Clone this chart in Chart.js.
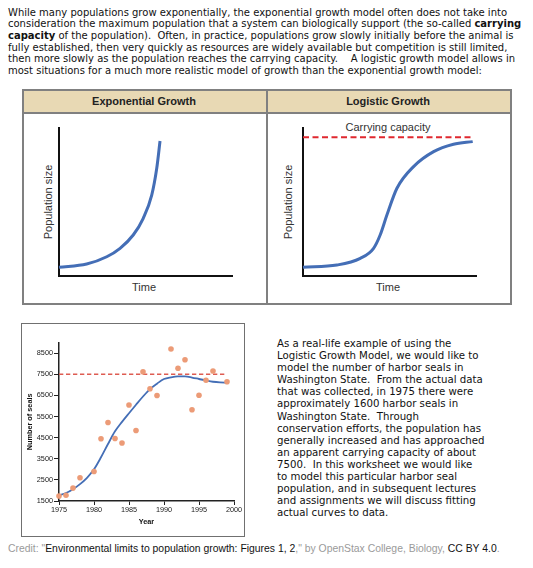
<!DOCTYPE html>
<html>
<head>
<meta charset="utf-8">
<script src="https://cdn.jsdelivr.net/npm/chart.js@4.4.1/dist/chart.umd.min.js"></script>
<style>
  html, body { margin: 0; padding: 0; background: #fff; }
  #page { position: relative; width: 533px; height: 568px; overflow: hidden; }
  .abs { position: absolute; }
  .verd { font-family: "DejaVu Sans", Verdana, sans-serif; color: #111; white-space: pre; }
  .arial { font-family: "Liberation Sans", Arial, sans-serif; }
  .ctr { transform: translate(-50%, -50%); white-space: nowrap; line-height: 1; }
  #intro { left: 8px; top: 6.9px; font-size: 10px; line-height: 11.6px; }
  #side { left: 277px; top: 338px; font-size: 10.2px; line-height: 12.1px; }
  #panels { left: 22px; top: 89px; width: 490px; height: 216px; box-sizing: border-box; border: 2px solid #808080; }
  #band { left: 0; top: 0; width: 486px; height: 21px; background: #e8d9b4; border-bottom: 2px solid #808080; }
  #divider { left: 242px; top: 0; width: 2px; height: 212px; background: #808080; }
  .head { font-size: 11px; font-weight: bold; color: #222; }
  .lab { font-size: 11px; color: #333; }
  .rot { transform: translate(-50%, -50%) rotate(-90deg); white-space: nowrap; line-height: 1; }
  #sealbox { left: 21px; top: 323px; width: 224px; height: 214px; box-sizing: border-box; border: 1.5px solid #707070; }
  #credit { left: 8px; top: 543px; font-size: 10.4px; color: #9a9a9a; white-space: pre; }
  #credit b { font-weight: normal; color: #111; }
</style>
</head>
<body>
<div id="page">
  <div id="intro" class="abs verd">While many populations grow exponentially, the exponential growth model often does not take into
consideration the maximum population that a system can biologically support (the so-called <b>carrying</b>
<b>capacity</b> of the population).  Often, in practice, populations grow slowly initially before the animal is
fully established, then very quickly as resources are widely available but competition is still limited,
then more slowly as the population reaches the carrying capacity.    A logistic growth model allows in
most situations for a much more realistic model of growth than the exponential growth model:</div>

  <div id="panels" class="abs">
    <div id="band" class="abs"></div>
    <div id="divider" class="abs"></div>
  </div>
  <div class="abs arial head ctr" style="left:144px;top:101px">Exponential Growth</div>
  <div class="abs arial head ctr" style="left:388px;top:101px">Logistic Growth</div>
  <div class="abs arial lab rot" style="left:48px;top:202px">Population size</div>
  <div class="abs arial lab rot" style="left:288px;top:202px">Population size</div>
  <div class="abs arial lab ctr" style="left:144px;top:287px">Time</div>
  <div class="abs arial lab ctr" style="left:388px;top:287px">Time</div>
  <div class="abs arial lab ctr" style="left:388px;top:127px">Carrying capacity</div>
  <canvas id="expChart" class="abs" width="193" height="168" style="left:49px;top:118px"></canvas>
  <canvas id="logChart" class="abs" width="193" height="168" style="left:293px;top:118px"></canvas>

  <div id="sealbox" class="abs"></div>
  <canvas id="sealChart" class="abs" width="222" height="212" style="left:22px;top:324px"></canvas>

  <div id="side" class="abs verd">As a real-life example of using the
Logistic Growth Model, we would like to
model the number of harbor seals in
Washington State.  From the actual data
that was collected, in 1975 there were
approximately 1600 harbor seals in
Washington State.  Through
conservation efforts, the population has
generally increased and has approached
an apparent carrying capacity of about
7500.  In this worksheet we would like
to model this particular harbor seal
population, and in subsequent lectures
and assignments we will discuss fitting
actual curves to data.</div>

  <div id="credit" class="abs arial">Credit: "<b>Environmental limits to population growth: Figures 1, 2</b>," by OpenStax College, Biology, <b>CC BY 4.0</b>.</div>
</div>

<script>
// schematic curves (0-100 on both axes)
const expX = [0, 16.0, 27.6, 35.3, 42.9, 48.7, 53.6, 56.5, 58.4];
const expY = [5.9, 8.1, 13.0, 18.7, 27.7, 39.0, 54.7, 72.8, 91.2];
const logX = [0, 19.6, 33.1, 40.8, 44.6, 48.5, 54.3, 63.9, 75.5, 87.0, 98.1];
const logY = [5.9, 7.4, 11.9, 18.7, 27.7, 41.2, 59.3, 73.9, 84.0, 89.0, 90.8];
const capLevel = 93.7;

// harbor seals in Washington State
const years = [1975, 1976, 1977, 1978, 1980, 1981, 1982, 1983, 1984, 1985, 1986, 1987, 1988, 1989, 1991, 1992, 1993, 1994, 1995, 1996, 1997, 1999];
const seals = [1740, 1770, 2110, 2600, 2900, 4450, 5220, 4460, 4250, 6050, 4840, 7620, 6820, 6500, 8700, 7790, 8190, 5820, 6510, 7220, 7660, 7150];
const fitYears = [1975, 1976, 1977, 1978, 1979, 1980, 1981, 1982, 1983, 1984, 1985, 1986, 1987, 1988, 1989, 1990, 1991, 1992, 1993, 1994, 1995, 1996, 1997, 1998, 1999];
const fitSeals = [1760, 1880, 2060, 2300, 2600, 3000, 3570, 4200, 4800, 5250, 5660, 6060, 6450, 6800, 7060, 7280, 7360, 7400, 7400, 7350, 7280, 7210, 7150, 7120, 7110];
const capacity = 7500;
const capYears = [1975, 1999];
const yTicks = [1500, 2500, 3500, 4500, 5500, 6500, 7500, 8500];
const xTicks = [1975, 1980, 1985, 1990, 1995, 2000];

const pts = (xs, ys) => xs.map((x, i) => ({ x: x, y: ys[i] }));
const blue = 'rgb(68,110,182)';

function schematicScales() {
  const axis = (fit) => ({
    type: 'linear', min: 0, max: 100,
    ticks: { display: false },
    grid: { display: false },
    border: { display: true, color: '#111', width: 2 },
    afterFit: fit
  });
  return {
    x: axis(s => { s.height = 0; }),
    y: axis(s => { s.width = 0; })
  };
}

function schematic(id, datasets) {
  new Chart(document.getElementById(id), {
    type: 'line',
    data: { datasets: datasets },
    options: {
      responsive: false,
      animation: false,
      layout: { padding: 10 },
      plugins: { legend: { display: false }, tooltip: { enabled: false } },
      scales: schematicScales()
    }
  });
}

schematic('expChart', [{
  data: pts(expX, expY), borderColor: blue, borderWidth: 3,
  pointRadius: 0, cubicInterpolationMode: 'monotone', clip: false
}]);

schematic('logChart', [
  {
    data: pts(logX, logY), borderColor: blue, borderWidth: 3,
    pointRadius: 0, cubicInterpolationMode: 'monotone', clip: false
  },
  {
    data: pts([0, logX[logX.length - 1]], [capLevel, capLevel]), borderColor: '#e0282f',
    borderWidth: 2, borderDash: [6, 3.5], pointRadius: 0, clip: false
  }
]);

// seal chart
const tickFont = { family: '"Liberation Sans", Arial, sans-serif', size: 7.3 };
const titleFont = { family: '"Liberation Sans", Arial, sans-serif', size: 7.3, weight: 'bold' };

new Chart(document.getElementById('sealChart'), {
  type: 'scatter',
  data: {
    datasets: [
      {
        data: pts(years, seals), backgroundColor: 'rgb(236,155,119)', borderWidth: 0,
        pointRadius: 2.8, clip: false
      },
      {
        data: pts(fitYears, fitSeals), showLine: true, borderColor: blue, borderWidth: 1.8,
        pointRadius: 0, cubicInterpolationMode: 'monotone', clip: false
      },
      {
        data: pts(capYears, [capacity, capacity]), showLine: true, borderColor: 'rgb(222,92,82)',
        borderWidth: 1.5, borderDash: [4.3, 2.7], pointRadius: 0, clip: false
      }
    ]
  },
  options: {
    responsive: false,
    animation: false,
    layout: { padding: { left: 0, top: 18.7, right: 10, bottom: 0 } },
    plugins: { legend: { display: false }, tooltip: { enabled: false } },
    scales: {
      x: {
        type: 'linear', min: 1975, max: 2000,
        afterBuildTicks: s => { s.ticks = xTicks.map(v => ({ value: v })); },
        afterFit: s => { s.height = 35; },
        ticks: { color: '#222', font: tickFont, padding: 1, maxRotation: 0, callback: v => String(v) },
        grid: { drawOnChartArea: false, drawTicks: true, tickLength: 4, color: '#222' },
        border: { display: true, color: '#222', width: 1.5 },
        title: { display: true, text: 'Year', color: '#111', font: titleFont, padding: { top: 0, bottom: 9.8 } }
      },
      y: {
        type: 'linear', min: 1500, max: 9000,
        afterBuildTicks: s => { s.ticks = yTicks.map(v => ({ value: v })); },
        afterFit: s => { s.width = 37; },
        ticks: { color: '#222', font: tickFont, padding: 1, callback: v => String(v) },
        grid: { drawOnChartArea: false, drawTicks: true, tickLength: 5, color: '#222' },
        border: { display: true, color: '#222', width: 1.5 },
        title: { display: true, text: 'Number of seals', color: '#111', font: titleFont, padding: { top: 4, bottom: 0 } }
      }
    }
  }
});
</script>
</body>
</html>
